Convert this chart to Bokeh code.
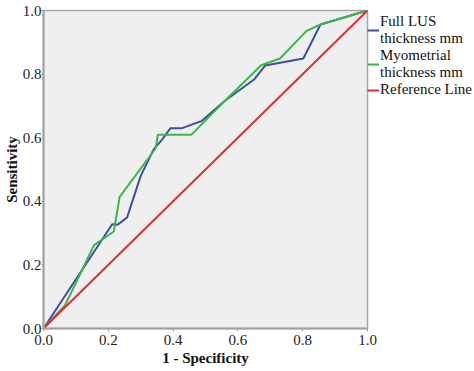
from bokeh.plotting import figure
from bokeh.models import Legend, LegendItem, FixedTicker, Range1d, PrintfTickFormatter
from bokeh.embed import file_html
from bokeh.resources import INLINE

fpr_lus = [0, 0.212, 0.228, 0.258, 0.30, 0.34, 0.366, 0.392, 0.428, 0.489, 0.561, 0.651, 0.684, 0.802, 0.855, 1.0]
tpr_lus = [0, 0.328, 0.326, 0.349, 0.48, 0.563, 0.594, 0.63, 0.63, 0.653, 0.717, 0.784, 0.827, 0.849, 0.956, 1.0]
fpr_myo = [0, 0.067, 0.156, 0.217, 0.235, 0.346, 0.353, 0.456, 0.556, 0.672, 0.730, 0.812, 0.855, 1.0]
tpr_myo = [0, 0.074, 0.262, 0.305, 0.414, 0.566, 0.609, 0.609, 0.712, 0.828, 0.849, 0.936, 0.956, 1.0]
ref_x = [0, 1]
ref_y = [0, 1]
ticks = [0, 0.2, 0.4, 0.6, 0.8, 1.0]
labels = ["Full LUS\nthickness mm", "Myometrial\nthickness mm", "Reference Line"]

FONT = "Liberation Serif"
FH = 318
p = figure(frame_width=324, frame_height=FH, output_backend="svg", toolbar_location=None,
           x_range=Range1d(0, 1), y_range=Range1d(0, 1),
           min_border_top=10, min_border_left=0, min_border_bottom=0, min_border_right=0)
p.background_fill_color = "#efefef"
p.outline_line_color = "#a8a8a8"
p.outline_line_width = 1.5
p.grid.visible = False

r1 = p.line(fpr_lus, tpr_lus, line_color="#3d4f9e", line_width=2)
r2 = p.line(fpr_myo, tpr_myo, line_color="#3db54a", line_width=2)
r3 = p.line(ref_x, ref_y, line_color="#d9303c", line_width=2)

for ax in (p.xaxis[0], p.yaxis[0]):
    ax.ticker = FixedTicker(ticks=ticks)
    ax.formatter = PrintfTickFormatter(format="%.1f")
    ax.axis_line_color = "#a0a0a0"
    ax.axis_line_width = 2
    ax.major_tick_line_color = "#a0a0a0"
    ax.major_tick_in = 0
    ax.major_tick_out = 3
    ax.minor_tick_line_color = None
    ax.major_label_text_font = FONT
    ax.major_label_text_font_size = "15px"
    ax.major_label_text_color = "#222222"
    ax.axis_label_text_font = FONT
    ax.axis_label_text_font_size = "15px"
    ax.axis_label_text_font_style = "bold"
    ax.axis_label_text_color = "#111111"

p.xaxis[0].major_label_standoff = 3
p.xaxis[0].axis_label_standoff = 2
p.yaxis[0].major_label_standoff = 0
p.yaxis[0].axis_label_standoff = 0
p.yaxis[0].major_tick_out = 2
p.xaxis[0].axis_label = "1 - Specificity"
p.yaxis[0].axis_label = "Sensitivity"

legend = Legend(items=[LegendItem(label=labels[0], renderers=[r1]),
                       LegendItem(label=labels[1], renderers=[r2]),
                       LegendItem(label=labels[2], renderers=[r3])],
                location=(0, FH - 8 - 80), border_line_color=None, background_fill_alpha=0,
                label_text_font=FONT, label_text_font_size="15px", label_text_color="#111111",
                glyph_width=12, glyph_height=12, label_standoff=1, spacing=0, padding=0, margin=0,
                label_height=12, label_text_line_height=0.78)
p.add_layout(legend, "right")

open("out.html", "w").write(file_html(p, INLINE))
